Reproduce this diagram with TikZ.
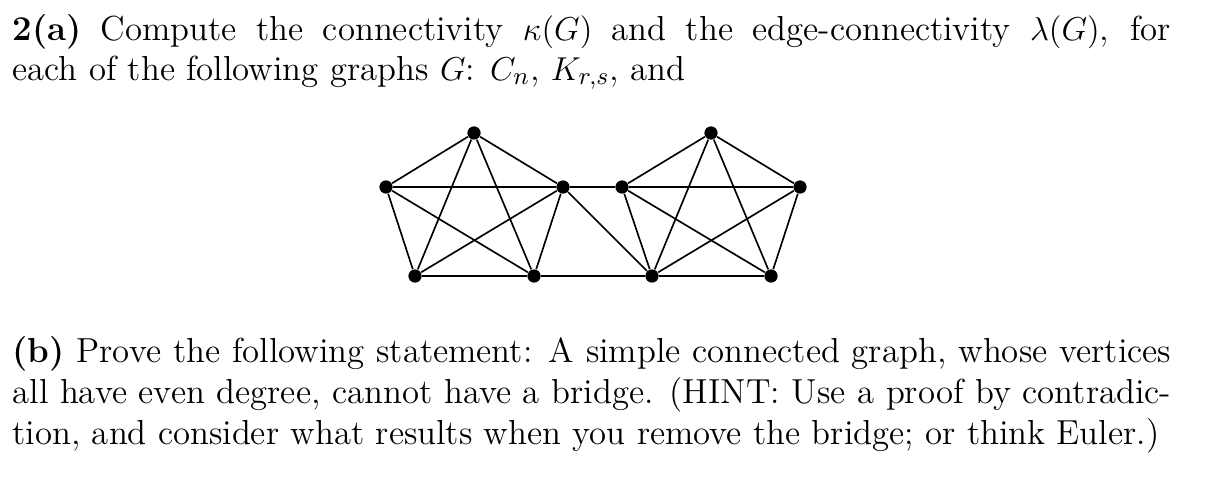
\documentclass[tikz,border=0pt]{standalone}
\begin{document}
\begin{tikzpicture}[x=0.3625pt,y=-0.3625pt,
  v/.style={circle,fill=black,inner sep=0pt,minimum size=4.8pt},
  txt/.style={anchor=base west,inner sep=0pt,font=\fontsize{12.6}{15}\selectfont}]
\useasboundingbox (0,0) rectangle (1214,493);
\def\W{420pt}
\node[txt] (l1) at (12,40) {\makebox[\W][s]{\textbf{2(a)} Compute the connectivity $\kappa(G)$ and the edge-connectivity $\lambda(G)$, for}};
\node[txt] (l2) at (12,80) {each of the following graphs $G$: $C_n$, $K_{r,s}$, and};
\node[txt] (l3) at (12,362) {\makebox[\W][s]{\textbf{(b)} Prove the following statement: A simple connected graph, whose vertices}};
\node[txt] (l4) at (12,403) {\makebox[\W][s]{all have even degree, cannot have a bridge. (HINT: Use a proof by contradic-}};
\node[txt] (l5) at (12,444) {tion, and consider what results when you remove the bridge; or think Euler.)};
\node[v] (a1) at (474,133) {};
\node[v] (a2) at (386,187) {};
\node[v] (a3) at (563,187) {};
\node[v] (a4) at (415,276) {};
\node[v] (a5) at (534,276) {};
\node[v] (b1) at (711,133) {};
\node[v] (b2) at (622,187) {};
\node[v] (b3) at (800,187) {};
\node[v] (b4) at (652,276) {};
\node[v] (b5) at (771,276) {};
\foreach \p in {a,b}{
  \foreach \i/\j in {1/2,1/3,1/4,1/5,2/3,2/4,2/5,3/4,3/5,4/5}
    \draw[line width=0.6pt] (\p\i) -- (\p\j);}
\draw[line width=0.6pt] (a3) -- (b2);
\draw[line width=0.6pt] (a5) -- (b4);
\draw[line width=0.6pt] (a3) -- (b4);
\end{tikzpicture}
\end{document}
